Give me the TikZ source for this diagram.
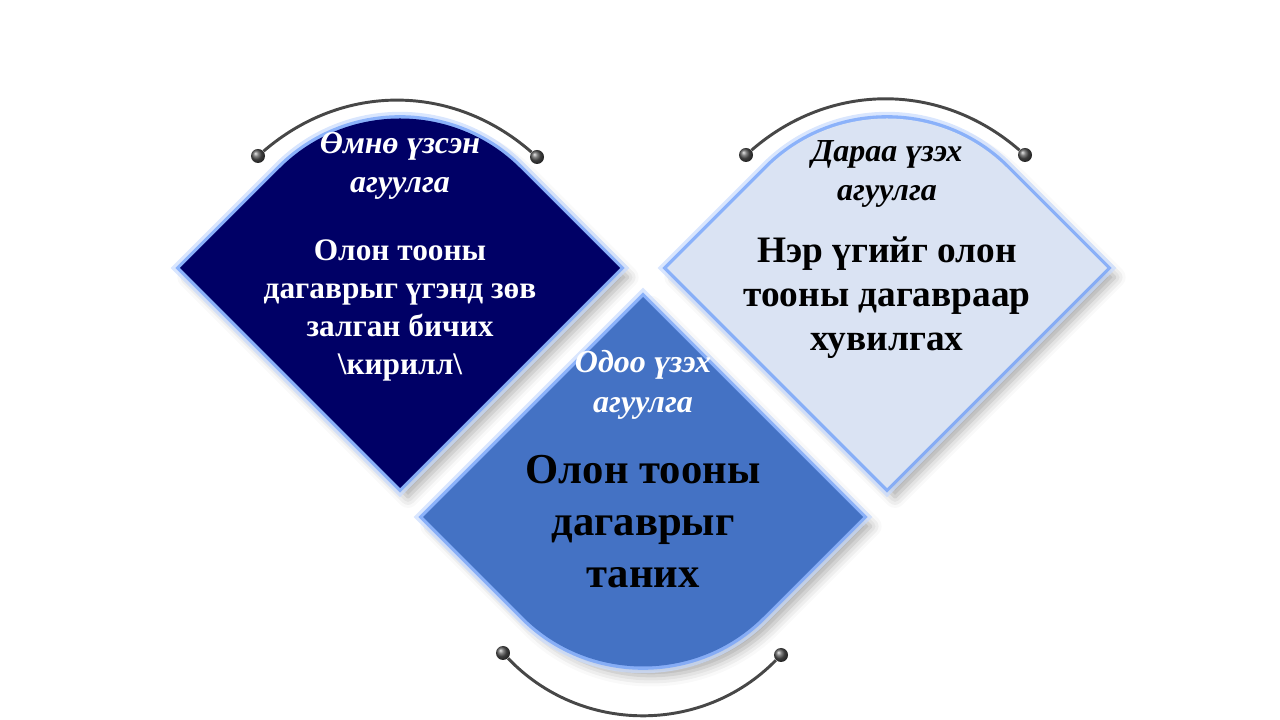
\documentclass[tikz,border=0pt]{standalone}
\usepackage{fontspec}
\setmainfont{Liberation Serif}
\usetikzlibrary{shadows.blur,positioning}

\definecolor{navy}{RGB}{0,0,102}
\definecolor{midblue}{RGB}{68,114,196}
\definecolor{paleblue}{RGB}{218,227,243}
\definecolor{glowblue}{RGB}{120,165,250}
\definecolor{knobgray}{RGB}{85,85,85}

\begin{document}
\begin{tikzpicture}[x=0.75pt, y=0.75pt,
    leaf/.style={blur shadow={shadow xshift=6pt, shadow yshift=-7pt, shadow blur radius=8pt, shadow opacity=35},
                 preaction={draw=glowblue!40, line width=10pt, draw opacity=.7},
                 preaction={draw=glowblue, line width=5pt, draw opacity=.8}},
    knob/.style={circle, inner sep=0pt, minimum size=10.5pt, ball color=knobgray},
    handle/.style={draw=black!72, line width=2.2pt},
    head/.style={font=\fontsize{24}{29.5}\selectfont\bfseries\itshape, align=center},
    body/.style={align=center}]
  \useasboundingbox (0,0) rectangle (1280,720);

  \fill[leaf, navy] (180,452) -- (280,552) .. controls (346,618) and (454,618) .. (520,552)
      -- (620,452) -- (400,232) -- cycle;
  \fill[leaf, paleblue] (667,452) -- (767,552) .. controls (833,618) and (941,618) .. (1007,552)
      -- (1107,452) -- (887,232) -- cycle;
  \fill[leaf, midblue] (423,203) -- (523,103) .. controls (589,37) and (697,37) .. (763,103)
      -- (863,203) -- (643,423) -- cycle;

  \node[knob] (prevL) at (258,564) {};
  \node[knob] (prevR) at (537,563) {};
  \node[knob] (nextL) at (746,565) {};
  \node[knob] (nextR) at (1025,565) {};
  \node[knob] (nowL) at (503,67) {};
  \node[knob] (nowR) at (781,65) {};
  \draw[handle] (prevL) to[bend left=41] (prevR);
  \draw[handle] (nextL) to[bend left=41] (nextR);
  \draw[handle] (nowL) to[bend right=46] (nowR);

  \node[head, white] (prevHead) at (400,554) {Өмнө үзсэн\\агуулга};
  \node[body, white, font=\fontsize{23.5}{28.5}\selectfont\bfseries] (prevBody) at (400,410)
      {Олон тооны\\дагаврыг үгэнд зөв\\залган бичих\\\textbackslash кирилл\textbackslash};

  \node[head, black] (nextHead) at (887,546) {Дараа үзэх\\агуулга};
  \node[body, black, font=\fontsize{28}{33}\selectfont\bfseries] (nextBody) at (887,422)
      {Нэр үгийг олон\\тооны дагавраар\\хувилгах};

  \node[head, white] (nowHead) at (643,335) {Одоо үзэх\\агуулга};
  \node[body, black, font=\fontsize{32}{39}\selectfont\bfseries] (nowBody) at (643,198)
      {Олон тооны\\дагаврыг\\таних};
\end{tikzpicture}
\end{document}
